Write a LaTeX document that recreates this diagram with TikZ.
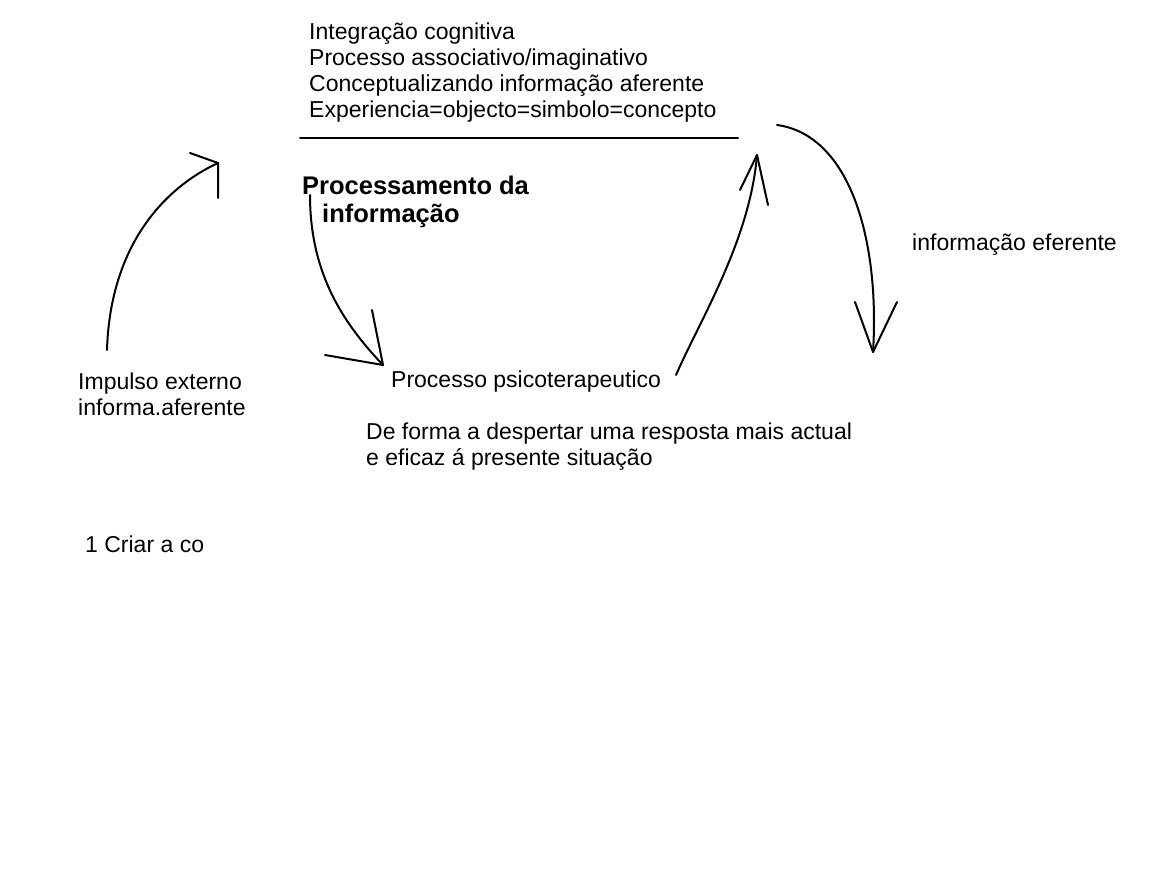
\documentclass[tikz,border=0pt]{standalone}
\usepackage{fontspec}
\setmainfont{Liberation Sans}
\begin{document}
\begin{tikzpicture}[x=1pt,y=-1pt,
  txt/.style={anchor=west,inner sep=0pt,font=\fontsize{23}{26}\selectfont},
  btxt/.style={anchor=west,inner sep=0pt,font=\fontsize{25.5}{26}\selectfont\bfseries},
  pen/.style={line width=2pt,line cap=round,line join=round}]
\useasboundingbox (0,0) rectangle (1158,869);
\node[txt,align=left,anchor=north west] (top) at (309,23) {Integração cognitiva\\Processo associativo/imaginativo\\Conceptualizando informação aferente\\Experiencia=objecto=simbolo=concepto};
\node[btxt] (p1) at (302,185) {Processamento da};
\node[btxt] (p2) at (322,216) {informação};
\node[txt] (ef) at (912,245) {informação eferente};
\node[txt,align=left] (imp) at (78,394) {Impulso externo\\informa.aferente};
\node[txt] (psi) at (391,382) {Processo psicoterapeutico};
\node[txt,align=left] (de) at (366,447) {De forma a despertar uma resposta mais actual\\e eficaz á presente situação};
\node[txt] (cr) at (85,544) {1 Criar a co};
\coordinate (a1s) at (107,350); \coordinate (a1e) at (218,163);
\coordinate (a2s) at (310,195); \coordinate (a2e) at (383,365);
\coordinate (a3s) at (676,375); \coordinate (a3e) at (757,155);
\coordinate (a4s) at (777,125); \coordinate (a4e) at (873,352);
\draw[pen] (300,138) -- (738,138);
\draw[pen] (a1s) .. controls (110,250) and (160,190) .. (a1e);
\draw[pen] (190,153) -- (a1e) -- (218,198);
\draw[pen] (a2s) .. controls (310,270) and (340,320) .. (a2e);
\draw[pen] (325,355) -- (a2e) -- (372,310);
\draw[pen] (a3s) .. controls (700,320) and (750,240) .. (a3e);
\draw[pen] (740,190) -- (a3e) -- (768,205);
\draw[pen] (a4s) .. controls (850,135) and (880,240) .. (a4e);
\draw[pen] (855,302) -- (a4e) -- (897,302);
\end{tikzpicture}
\end{document}
